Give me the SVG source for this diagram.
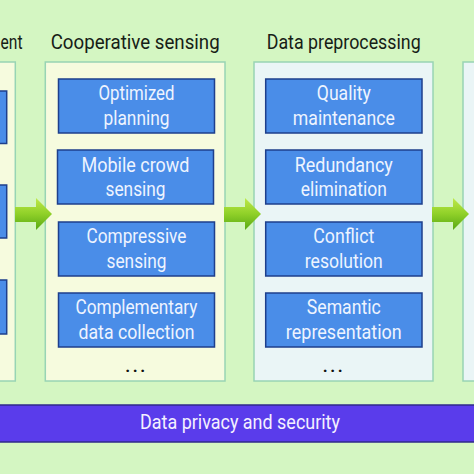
<svg xmlns="http://www.w3.org/2000/svg" xmlns:xlink="http://www.w3.org/1999/xlink" width="474" height="474" viewBox="0 0 474 474">
<style>
.title{font-family:Roboto,"Liberation Sans",sans-serif;font-size:21px;fill:#162016;}
.panelA{fill:#f6fbde;stroke:#98d4b4;stroke-width:1.5;}
.panelB{fill:#eaf5f6;stroke:#98d4b4;stroke-width:1.5;}
.box{fill:#4a8de8;stroke:#1e3f8c;stroke-width:1.5;}
.bt{font-family:Roboto,"Liberation Sans",sans-serif;font-size:20px;fill:#eef4ff;text-anchor:middle;}
.dots{font-family:Roboto,"Liberation Sans",sans-serif;font-size:17px;font-weight:bold;fill:#111;text-anchor:middle;letter-spacing:2.5px;}
.band{fill:#5a3ceb;stroke:#2f2a8a;stroke-width:1.5;}
.bandt{font-family:Roboto,"Liberation Sans",sans-serif;font-size:20px;fill:#f4f0ff;text-anchor:middle;}
</style>
<defs>
<linearGradient id="ag" x1="0" y1="0" x2="0" y2="1">
<stop offset="0" stop-color="#bfe84a"/>
<stop offset="0.5" stop-color="#8fd028"/>
<stop offset="1" stop-color="#58a814"/>
</linearGradient>
<path id="arrow" d="M0 207 H21 V198 L37 214 L21 230 V222 H0 Z" fill="url(#ag)"/>
</defs>
<rect x="0" y="0" width="474" height="474" fill="#d4f6c2"/>

<g id="panel-left">
<text class="title" x="0.5" y="49" textLength="22" lengthAdjust="spacingAndGlyphs">ent</text>
<rect class="panelA" x="-5" y="62" width="20.3" height="319"/>
<rect class="box" x="-10" y="91" width="16.7" height="52.5"/>
<rect class="box" x="-10" y="185" width="16.7" height="53"/>
<rect class="box" x="-10" y="280" width="16.7" height="54"/>
</g>

<g id="panel-cooperative">
<text class="title" x="50.7" y="49" textLength="169" lengthAdjust="spacingAndGlyphs">Cooperative sensing</text>
<rect class="panelA" x="45.3" y="62" width="179.7" height="319"/>
<g id="optimized-planning">
<rect class="box" x="58.5" y="79" width="156" height="54"/>
<text class="bt" x="136.5" y="100" textLength="76" lengthAdjust="spacingAndGlyphs">Optimized</text>
<text class="bt" x="136.5" y="125" textLength="66" lengthAdjust="spacingAndGlyphs">planning</text>
</g>
<g id="mobile-crowd-sensing">
<rect class="box" x="57.5" y="150" width="156" height="54"/>
<text class="bt" x="135.5" y="171.5" textLength="108" lengthAdjust="spacingAndGlyphs">Mobile crowd</text>
<text class="bt" x="135.5" y="196" textLength="60" lengthAdjust="spacingAndGlyphs">sensing</text>
</g>
<g id="compressive-sensing">
<rect class="box" x="58.5" y="222" width="156" height="54"/>
<text class="bt" x="136.5" y="243" textLength="100" lengthAdjust="spacingAndGlyphs">Compressive</text>
<text class="bt" x="136.5" y="268" textLength="60" lengthAdjust="spacingAndGlyphs">sensing</text>
</g>
<g id="complementary-data-collection">
<rect class="box" x="58.5" y="293" width="156" height="54"/>
<text class="bt" x="136.5" y="314" textLength="122" lengthAdjust="spacingAndGlyphs">Complementary</text>
<text class="bt" x="136.5" y="339" textLength="116" lengthAdjust="spacingAndGlyphs">data collection</text>
</g>
<text class="dots" x="136.5" y="372">...</text>
</g>

<g id="panel-preprocessing">
<text class="title" x="266.7" y="49" textLength="154" lengthAdjust="spacingAndGlyphs">Data preprocessing</text>
<rect class="panelB" x="254" y="62" width="179" height="319"/>
<g id="quality-maintenance">
<rect class="box" x="265.7" y="79" width="156.3" height="54"/>
<text class="bt" x="343.8" y="100" textLength="54" lengthAdjust="spacingAndGlyphs">Quality</text>
<text class="bt" x="343.8" y="125" textLength="102" lengthAdjust="spacingAndGlyphs">maintenance</text>
</g>
<g id="redundancy-elimination">
<rect class="box" x="265.7" y="150" width="156.3" height="54"/>
<text class="bt" x="343.8" y="171.5" textLength="98" lengthAdjust="spacingAndGlyphs">Redundancy</text>
<text class="bt" x="343.8" y="196" textLength="86" lengthAdjust="spacingAndGlyphs">elimination</text>
</g>
<g id="conflict-resolution">
<rect class="box" x="265.7" y="222" width="156.3" height="54"/>
<text class="bt" x="343.8" y="243" textLength="61" lengthAdjust="spacingAndGlyphs">Conflict</text>
<text class="bt" x="343.8" y="268" textLength="78" lengthAdjust="spacingAndGlyphs">resolution</text>
</g>
<g id="semantic-representation">
<rect class="box" x="265.7" y="293" width="156.3" height="54"/>
<text class="bt" x="343.8" y="314" textLength="74" lengthAdjust="spacingAndGlyphs">Semantic</text>
<text class="bt" x="343.8" y="339" textLength="116" lengthAdjust="spacingAndGlyphs">representation</text>
</g>
<text class="dots" x="334" y="372">...</text>
</g>

<g id="panel-right">
<rect class="panelB" x="463" y="62" width="20" height="319"/>
</g>

<g id="connectors">
<use xlink:href="#arrow" x="15"/>
<use xlink:href="#arrow" x="224"/>
<use xlink:href="#arrow" x="432"/>
</g>

<g id="privacy-security">
<rect class="band" x="-2" y="405" width="478" height="37"/>
<text class="bandt" x="240" y="429" textLength="200" lengthAdjust="spacingAndGlyphs">Data privacy and security</text>
</g>
</svg>
